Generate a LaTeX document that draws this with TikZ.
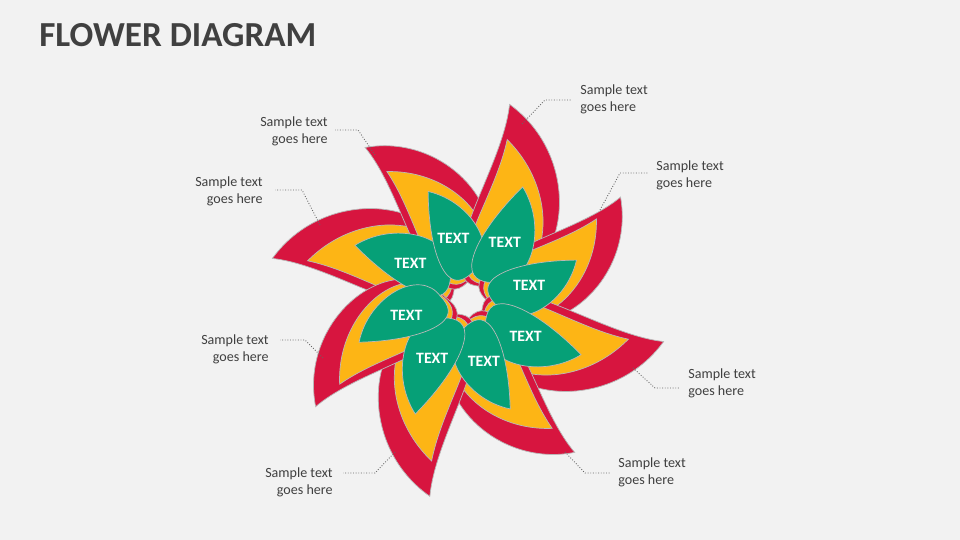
\documentclass[tikz,border=0pt]{standalone}
\usepackage{fontspec}
\setmainfont{Carlito}
\definecolor{bg}{HTML}{F2F2F2}
\definecolor{pred}{HTML}{D7153F}
\definecolor{pyel}{HTML}{FDB515}
\definecolor{pgrn}{HTML}{06A077}
\definecolor{ttl}{HTML}{404040}
\definecolor{txt}{HTML}{404040}
\tikzset{
 lay/.style={draw=gray!55,line width=0.4pt},
 lbl/.style={text=white,font=\fontsize{9}{10}\selectfont\bfseries,inner sep=0pt},
 side/.style={text=txt,font=\fontsize{8}{9.6}\selectfont,align=#1,inner sep=0pt},
 lead/.style={draw=gray!80!black,densely dotted,line width=0.5pt},
 petalout/.pic={
  \fill[pred,lay] (18,-16) .. controls (30,-95) and (160,-90) .. (200,0) .. controls (150,-5) and (80,22) .. (40,16) .. controls (16,12) and (12,2) .. cycle;
  \fill[pyel,lay] (20,-18) .. controls (25,-75) and (120,-75) .. (165,-5) .. controls (120,-5) and (70,14) .. (40,11) .. controls (20,8) and (16,-4) .. cycle;
 },
 petalin/.pic={
  \fill[pgrn,lay] (22,-20) .. controls (22,-58) and (85,-65) .. (122,-30) .. controls (95,-12) and (62,4) .. (40,4) .. controls (22,4) and (20,-8) .. cycle;
  \node[lbl] (-t) at (64,-24) {TEXT};
 }
}
\begin{document}
\begin{tikzpicture}[x=0.02cm,y=0.02cm]
\fill[bg] (0,0) rectangle (960,540);
\useasboundingbox (0,0) rectangle (960,540);
\node[anchor=west,text=ttl,font=\fontsize{20}{24}\selectfont\bfseries,inner sep=0pt] (title) at (39,505) {FLOWER DIAGRAM};
\coordinate (c) at (468,240);
\foreach \a/\s [count=\i] in {168/1.0,124/0.92,78/1.0,34/0.92,-12/1.0,-55/0.93,-101/1.0,-145/0.93}
  \pic[rotate=\a,scale=\s] (po\i) at (c) {petalout};
\foreach \a/\s [count=\i] in {168/1.0,124/0.92,78/1.0,34/0.92,-12/1.0,-55/0.93,-101/1.0,-145/0.93}
  \pic[rotate=\a,scale=\s] (pi\i) at (c) {petalin};
% callouts
\coordinate (a1) at (522,416); \coordinate (b1) at (545,440); \coordinate (e1) at (572,440);
\draw[lead] (a1) -- (b1) -- (e1);
\node[side=left,anchor=west] (s1) at (580,441) {Sample text\\goes here};
\coordinate (a2) at (600,330); \coordinate (b2) at (620,367); \coordinate (e2) at (648,367);
\draw[lead] (a2) -- (b2) -- (e2);
\node[side=left,anchor=west] (s2) at (656,365) {Sample text\\goes here};
\coordinate (a3) at (633,172); \coordinate (b3) at (655,152); \coordinate (e3) at (680,152);
\draw[lead] (a3) -- (b3) -- (e3);
\node[side=left,anchor=west] (s3) at (688,157) {Sample text\\goes here};
\coordinate (a4) at (565,88); \coordinate (b4) at (585,67); \coordinate (e4) at (610,67);
\draw[lead] (a4) -- (b4) -- (e4);
\node[side=left,anchor=west] (s4) at (618,68) {Sample text\\goes here};
\coordinate (a5) at (395,88); \coordinate (b5) at (375,67); \coordinate (e5) at (343,67);
\draw[lead] (a5) -- (b5) -- (e5);
\node[side=right,anchor=east] (s5) at (333,58) {Sample text\\goes here};
\coordinate (a6) at (323,182); \coordinate (b6) at (305,200); \coordinate (e6) at (280,200);
\draw[lead] (a6) -- (b6) -- (e6);
\node[side=right,anchor=east] (s6) at (269,191) {Sample text\\goes here};
\coordinate (a7) at (320,315); \coordinate (b7) at (302,350); \coordinate (e7) at (275,350);
\draw[lead] (a7) -- (b7) -- (e7);
\node[side=right,anchor=east] (s7) at (263,349) {Sample text\\goes here};
\coordinate (a8) at (375,385); \coordinate (b8) at (358,410); \coordinate (e8) at (335,410);
\draw[lead] (a8) -- (b8) -- (e8);
\node[side=right,anchor=east] (s8) at (328,409) {Sample text\\goes here};
\end{tikzpicture}
\end{document}
